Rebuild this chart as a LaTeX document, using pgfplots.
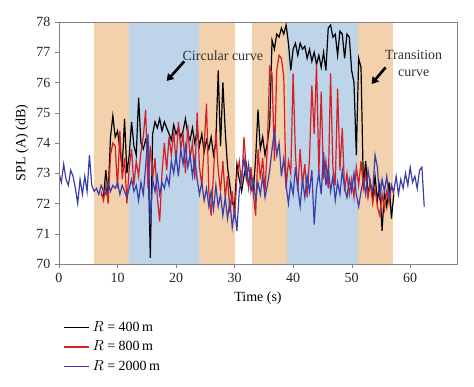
\documentclass[border=0pt]{standalone}
\usepackage{fontspec}
\setmainfont{Liberation Serif}
\usepackage{pgfplots}
\pgfplotsset{compat=1.18}
\usetikzlibrary{arrows.meta}
\definecolor{bandor}{RGB}{242,209,172}
\definecolor{bandbl}{RGB}{190,212,232}
\definecolor{redl}{RGB}{210,32,36}
\definecolor{bluel}{RGB}{58,62,170}
\definecolor{framec}{RGB}{130,130,130}
\begin{document}
\begin{tikzpicture}[font=\fontsize{10.5}{12}\selectfont]
\path (-44.25pt,-91.5pt) rectangle (311.25pt,198pt);
\begin{axis}[
  at={(0,0)}, anchor=origin,
  scale only axis, width=298.5pt, height=181.5pt,
  xmin=0, xmax=68, ymin=70, ymax=78,
  xtick={0,10,...,60}, ytick={70,71,...,78},
  tick align=outside, xtick pos=bottom, ytick pos=left,
  major tick length=3pt,
  axis line style={framec},
  tick style={framec},
  ticklabel style={text=black!85},
  /pgf/number format/assume math mode=true,
  xlabel={Time (s)}, ylabel={SPL (A) (dB)},
  xlabel style={yshift=0pt},
  ylabel style={yshift=-1pt},
  axis on top,
  legend cell align=left,
  legend style={at={(0,-0.215)}, anchor=north west, draw=none, fill=none,
    row sep=1.5pt, font=\fontsize{10.5}{12}\selectfont,
    /tikz/every even column/.append style={column sep=4pt}},
  legend image code/.code={\draw[#1, line width=1pt] (0pt,0pt) -- (19pt,0pt);},
]
\addplot[fill=bandor, draw=none, forget plot] coordinates {(6,70) (6,78) (12,78) (12,70)} -- cycle;
\addplot[fill=bandbl, draw=none, forget plot] coordinates {(12,70) (12,78) (24,78) (24,70)} -- cycle;
\addplot[fill=bandor, draw=none, forget plot] coordinates {(24,70) (24,78) (30,78) (30,70)} -- cycle;
\addplot[fill=bandor, draw=none, forget plot] coordinates {(33,70) (33,78) (39,78) (39,70)} -- cycle;
\addplot[fill=bandbl, draw=none, forget plot] coordinates {(39,70) (39,78) (51,78) (51,70)} -- cycle;
\addplot[fill=bandor, draw=none, forget plot] coordinates {(51,70) (51,78) (57,78) (57,70)} -- cycle;

\addplot[black, line width=0.9pt] coordinates {
(7.2,72.3) (7.6,72.2) (8.0,73.1) (8.4,72.3) (8.8,74.2) (9.2,74.9) (9.6,74.2) (10.0,74.4) (10.4,73.8) (10.8,73.2)
(11.2,74.8) (11.6,73.0) (12.0,73.6) (12.4,74.7) (12.8,73.9) (13.2,73.6) (13.6,75.5) (14.0,74.0) (14.4,73.8) (14.8,74.1)
(15.2,73.9) (15.6,70.2) (16.0,74.3) (16.4,74.7) (16.8,74.5) (17.2,74.8) (17.6,74.4) (18.0,74.7) (18.4,74.5) (18.8,74.3)
(19.2,74.1) (19.6,74.6) (20.0,74.3) (20.4,74.5) (20.8,74.2) (21.2,74.4) (21.6,74.8) (22.0,74.3) (22.4,74.1) (22.8,74.5)
(23.2,74.0) (23.6,74.4) (24.0,73.9) (24.4,74.3) (24.8,73.7) (25.2,74.1) (25.6,73.8) (26.0,74.2) (26.4,73.6) (26.8,74.0)
(27.2,76.4) (27.6,73.9) (28.0,76.0) (28.4,74.4) (28.8,73.2) (29.2,72.6) (29.6,72.0) (30.0,71.9) (30.4,73.3) (30.8,72.8)
(31.2,72.4) (31.6,72.9) (32.0,73.3) (32.4,72.6) (32.8,73.0) (33.2,72.4) (33.6,73.5) (34.0,75.1) (34.4,73.8) (34.8,74.2)
(35.2,73.6) (35.6,74.0) (36.0,74.6) (36.4,77.4) (36.8,77.1) (37.2,77.6) (37.6,77.5) (38.0,77.8) (38.4,77.6) (38.8,77.9)
(39.2,77.3) (39.6,76.4) (40.0,77.1) (40.4,77.3) (40.8,76.9) (41.2,77.3) (41.6,77.1) (42.0,77.2) (42.4,76.8) (42.8,77.1)
(43.2,76.7) (43.6,77.0) (44.0,76.6) (44.4,76.9) (44.8,76.5) (45.2,77.0) (45.6,76.4) (46.0,77.8) (46.4,77.9) (46.8,77.5)
(47.2,77.6) (47.6,76.9) (48.0,77.7) (48.4,77.6) (48.8,76.8) (49.2,77.6) (49.6,77.5) (50.0,76.4) (50.4,76.0) (50.8,73.6)
(51.2,76.8) (51.6,76.5) (52.0,72.6) (52.4,73.4) (52.8,72.3) (53.2,72.7) (53.6,72.2) (54.0,72.9) (54.4,72.1) (54.8,72.6)
(55.2,71.1) (55.6,72.4) (56.0,71.9) (56.4,72.7) (56.8,71.5) (57.2,72.3)
};
\addlegendentry{$R$ = 400\,m}

\addplot[redl, line width=0.9pt] coordinates {
(7.2,72.4) (7.6,72.1) (8.0,72.6) (8.4,72.0) (8.8,73.6) (9.2,74.0) (9.6,73.9) (10.0,72.5) (10.4,74.4) (10.8,72.8)
(11.2,73.5) (11.6,72.0) (12.0,73.2) (12.4,73.8) (12.8,72.6) (13.2,73.4) (13.6,72.9) (14.0,73.7) (14.4,74.2) (14.8,75.1)
(15.2,72.5) (15.6,73.9) (16.0,72.8) (16.4,73.5) (16.8,72.2) (17.2,71.4) (17.6,73.0) (18.0,74.0) (18.4,73.1) (18.8,74.2)
(19.2,73.6) (19.6,74.4) (20.0,73.3) (20.4,74.7) (20.8,73.8) (21.2,74.3) (21.6,73.0) (22.0,74.6) (22.4,73.5) (22.8,74.0)
(23.2,72.8) (23.6,75.0) (24.0,73.2) (24.4,72.6) (24.8,73.9) (25.2,75.3) (25.6,72.4) (26.0,71.6) (26.4,73.0) (26.8,74.4)
(27.2,73.1) (27.6,72.4) (28.0,73.4) (28.4,72.2) (28.8,72.9) (29.2,71.7) (29.6,72.4) (30.0,71.5) (30.4,72.9) (30.8,73.4)
(31.2,72.6) (31.6,74.2) (32.0,73.1) (32.4,72.5) (32.8,73.2) (33.2,72.3) (33.6,71.6) (34.0,73.8) (34.4,72.8) (34.8,73.5)
(35.2,72.4) (35.6,73.9) (36.0,76.5) (36.4,76.3) (36.8,73.4) (37.2,76.4) (37.6,76.9) (38.0,76.8) (38.4,76.2) (38.8,72.5)
(39.2,73.4) (39.6,73.0) (40.0,76.3) (40.4,73.6) (40.8,72.4) (41.2,73.8) (41.6,72.6) (42.0,73.3) (42.4,72.2) (42.8,73.5)
(43.2,75.9) (43.6,74.3) (44.0,76.6) (44.4,73.0) (44.8,75.7) (45.2,72.8) (45.6,73.4) (46.0,72.5) (46.4,76.3) (46.8,73.2)
(47.2,72.6) (47.6,75.8) (48.0,73.1) (48.4,74.5) (48.8,72.4) (49.2,73.0) (49.6,72.3) (50.0,72.8) (50.4,72.2) (50.8,73.2)
(51.2,72.6) (51.6,73.4) (52.0,72.5) (52.4,73.0) (52.8,72.2) (53.2,72.7) (53.6,72.0) (54.0,72.5) (54.4,71.9) (54.8,71.6)
(55.2,72.3) (55.6,71.8) (56.0,72.4) (56.4,72.0) (56.8,72.6) (57.2,72.3)
};
\addlegendentry{$R$ = 800\,m}

\addplot[bluel, line width=0.9pt] coordinates {
(0.0,73.0) (0.4,72.7) (0.8,73.3) (1.2,72.8) (1.6,72.6) (2.0,73.1) (2.4,72.9) (2.8,72.5) (3.2,72.0) (3.6,72.8)
(4.0,72.3) (4.4,72.9) (4.8,72.4) (5.2,73.6) (5.6,72.6) (6.0,72.4) (6.4,72.5) (6.8,72.3) (7.2,72.6) (7.6,72.4)
(8.0,72.3) (8.4,72.7) (8.8,72.4) (9.2,72.6) (9.6,72.5) (10.0,72.7) (10.4,72.3) (10.8,72.6) (11.2,72.4) (11.6,72.2)
(12.0,72.5) (12.4,72.8) (12.8,72.4) (13.2,72.6) (13.6,72.1) (14.0,72.7) (14.4,72.3) (14.8,73.2) (15.2,74.3) (15.6,71.3)
(16.0,72.8) (16.4,72.4) (16.8,72.9) (17.2,72.3) (17.6,72.7) (18.0,72.5) (18.4,72.9) (18.8,72.6) (19.2,73.4) (19.6,73.0)
(20.0,73.6) (20.4,72.9) (20.8,73.8) (21.2,73.3) (21.6,73.9) (22.0,73.2) (22.4,73.6) (22.8,72.9) (23.2,73.5) (23.6,72.8)
(24.0,72.3) (24.4,72.7) (24.8,72.1) (25.2,72.5) (25.6,71.9) (26.0,72.4) (26.4,71.8) (26.8,72.6) (27.2,71.9) (27.6,72.3)
(28.0,71.6) (28.4,72.2) (28.8,71.5) (29.2,72.1) (29.6,71.2) (30.0,71.8) (30.4,71.1) (30.8,72.4) (31.2,72.9) (31.6,73.5)
(32.0,72.8) (32.4,73.3) (32.8,72.4) (33.2,72.8) (33.6,72.1) (34.0,72.7) (34.4,72.3) (34.8,72.9) (35.2,72.2) (35.6,72.6)
(36.0,73.1) (36.4,73.8) (36.8,74.4) (37.2,73.6) (37.6,74.0) (38.0,72.9) (38.4,73.5) (38.8,72.6) (39.2,72.0) (39.6,72.7)
(40.0,72.3) (40.4,73.2) (40.8,72.5) (41.2,71.9) (41.6,72.8) (42.0,72.2) (42.4,72.9) (42.8,72.4) (43.2,73.1) (43.6,71.3)
(44.0,72.5) (44.4,73.0) (44.8,72.3) (45.2,73.7) (45.6,72.6) (46.0,73.2) (46.4,72.4) (46.8,72.9) (47.2,72.1) (47.6,72.7)
(48.0,72.3) (48.4,73.1) (48.8,72.5) (49.2,72.2) (49.6,72.8) (50.0,72.4) (50.4,73.0) (50.8,72.3) (51.2,71.9) (51.6,72.4)
(52.0,72.8) (52.4,72.3) (52.8,73.1) (53.2,72.6) (53.6,72.4) (54.0,73.6) (54.4,73.2) (54.8,72.1) (55.2,72.8) (55.6,72.4)
(56.0,72.9) (56.4,72.2) (56.8,72.6) (57.2,72.4) (57.6,72.9) (58.0,72.3) (58.4,72.8) (58.8,72.5) (59.2,73.0) (59.6,72.6)
(60.0,73.2) (60.4,72.7) (60.8,72.9) (61.2,72.5) (61.6,73.1) (62.0,73.2) (62.4,71.9)
};
\addlegendentry{$R$ = 2000\,m}

\node[text=black!80] at (axis cs:28,76.9) {Circular curve};
\draw[-{Triangle[length=5pt,width=6pt]}, line width=2pt] (axis cs:21.4,76.7) -- (axis cs:18.4,76.05);
\node[text=black!80, align=center, font=\fontsize{10.5}{12.5}\selectfont] at (axis cs:60.6,76.62) {Transition\\curve};
\draw[-{Triangle[length=5pt,width=6pt]}, line width=2pt] (axis cs:55.8,76.5) -- (axis cs:53.4,75.95);
\end{axis}
\end{tikzpicture}
\end{document}
